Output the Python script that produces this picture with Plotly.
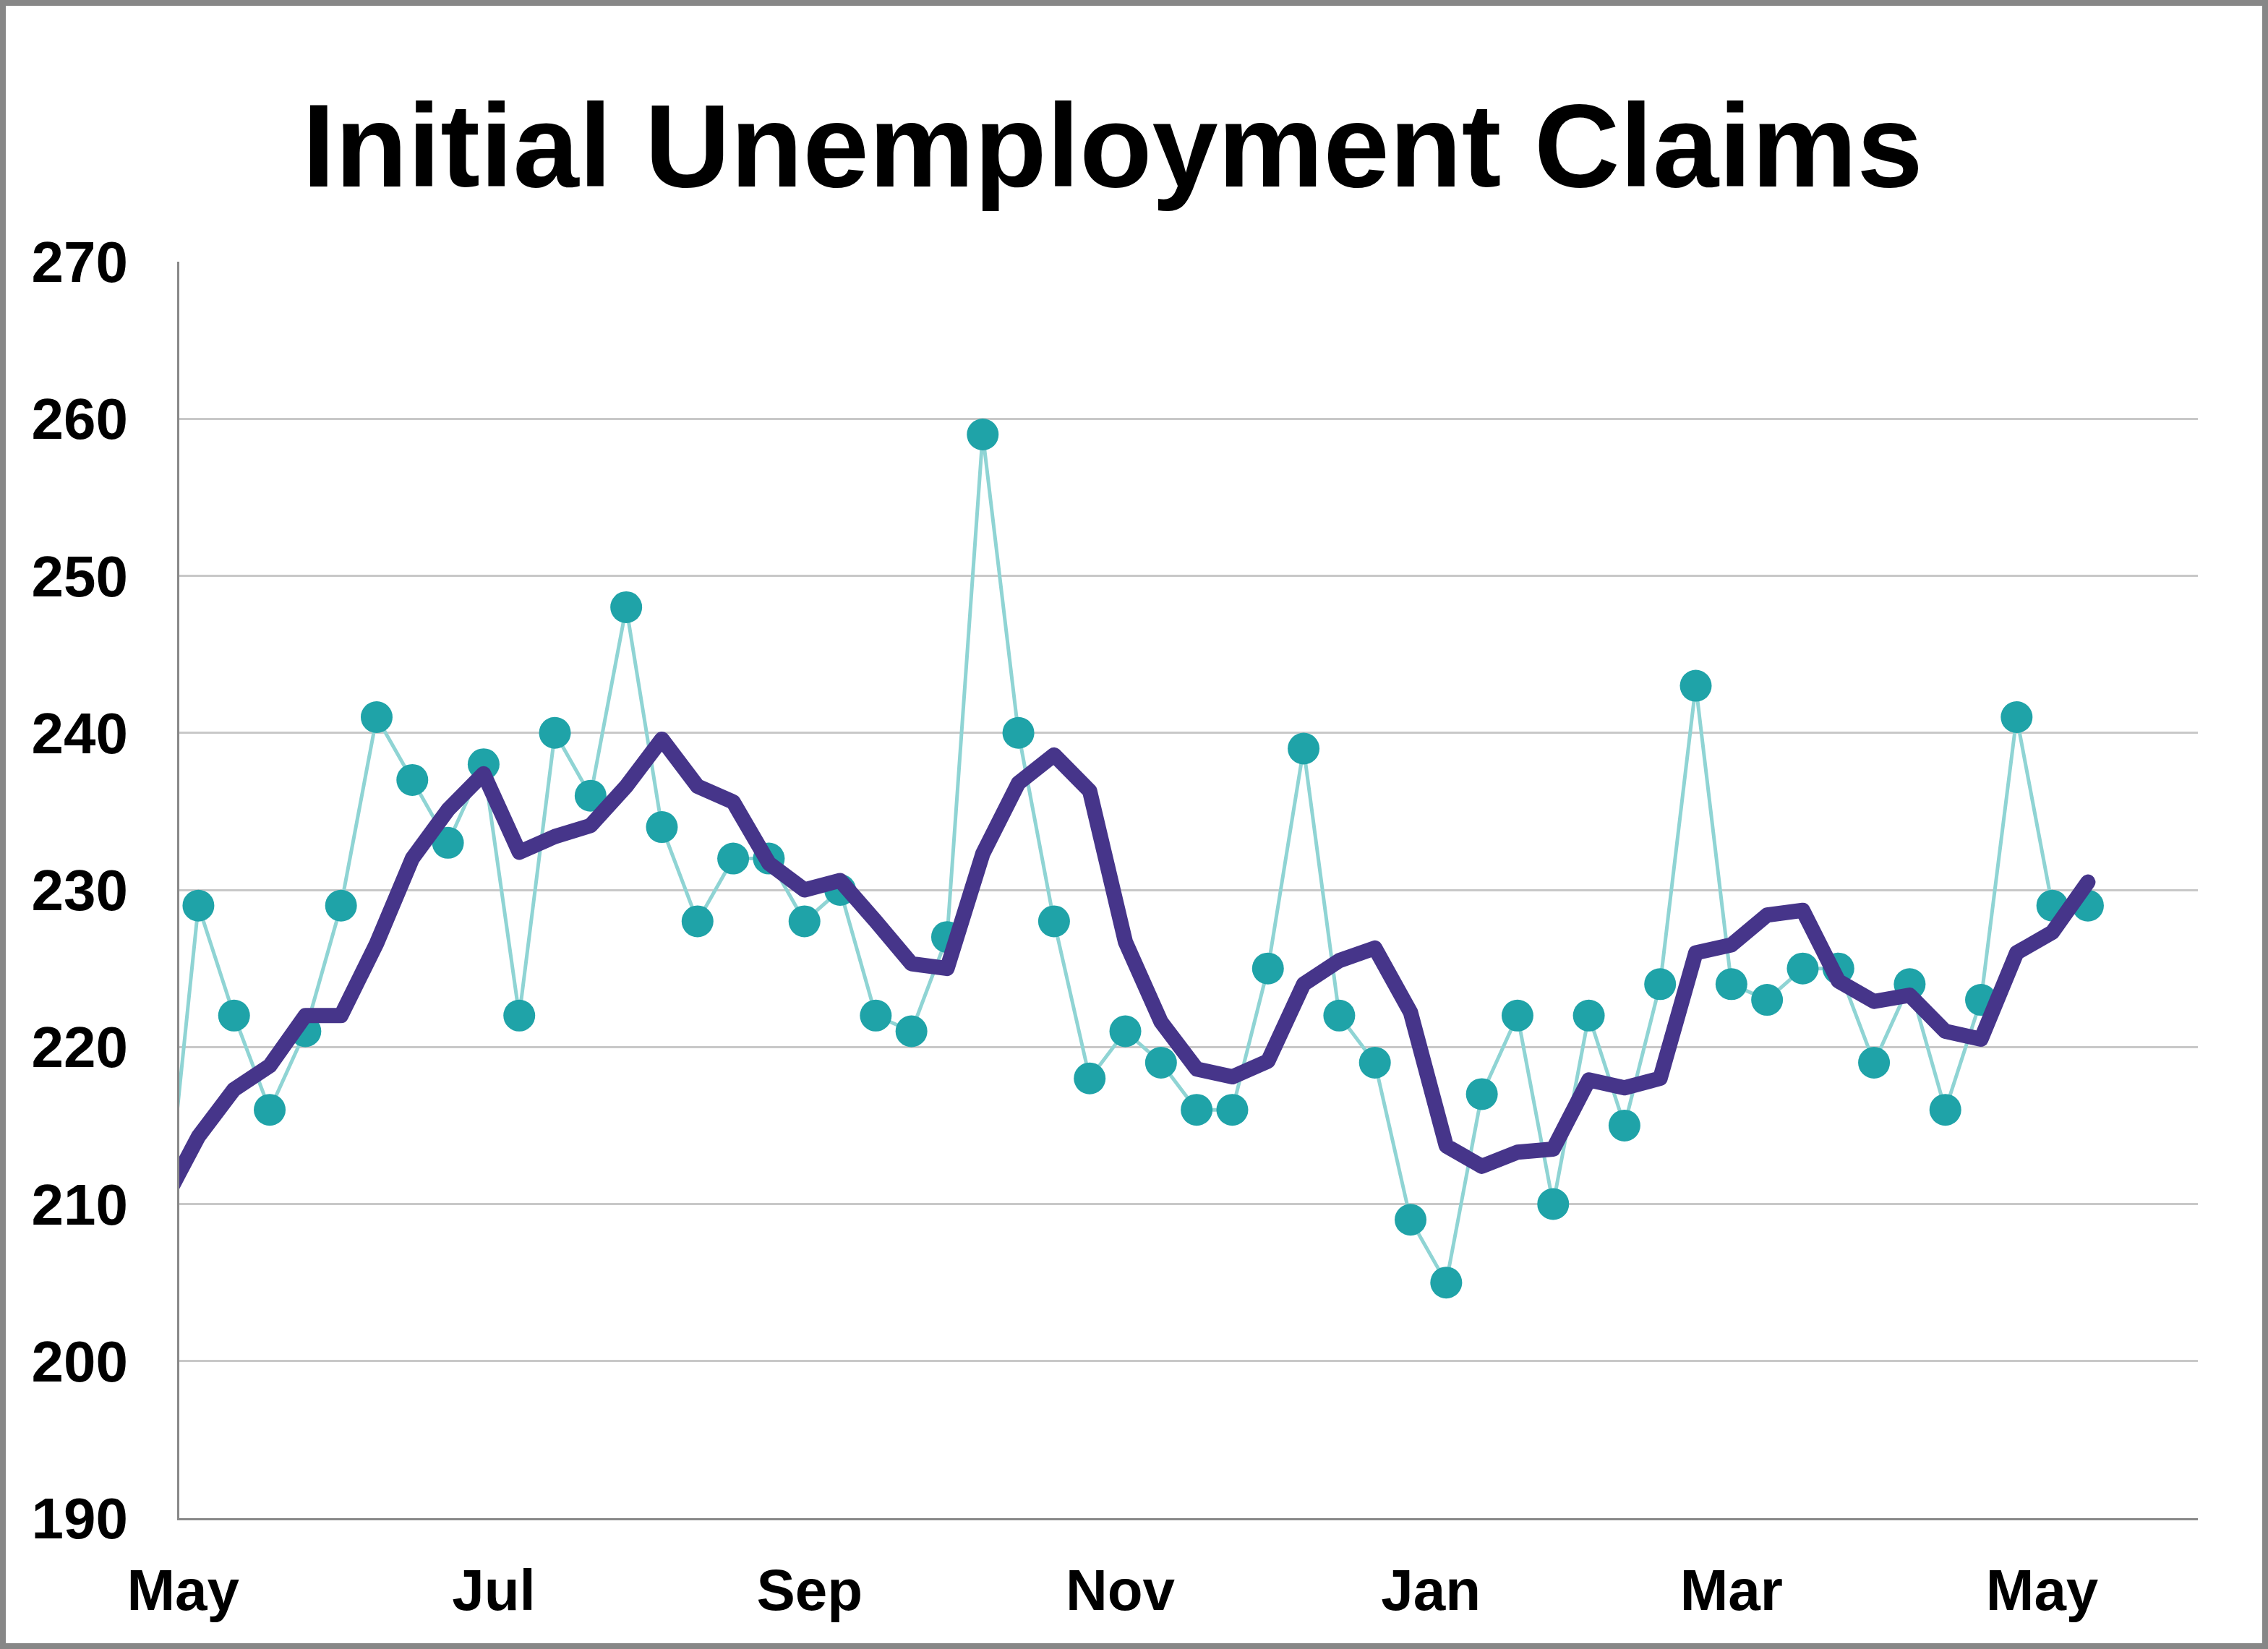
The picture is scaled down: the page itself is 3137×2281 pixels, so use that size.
import pandas as pd
import plotly.graph_objects as go

# Weekly initial claims (thousands), week ending Saturdays, starting 2024-04-27
claims = [207, 229, 222, 216, 221, 229, 241, 237, 233, 238, 222, 240, 236, 248,
          234, 228, 232, 232, 228, 230, 222, 221, 227, 259, 240, 228, 218, 221,
          219, 216, 216, 225, 239, 222, 219, 209, 205, 217, 222, 210, 222, 215,
          224, 243, 224, 223, 225, 225, 219, 224, 216, 223, 241, 229, 229]

# 4-week moving average (thousands)
moving_avg = [210.0, 214.3, 217.3, 218.8, 222.0, 222.0, 226.6, 232.0, 235.1, 237.4,
              232.4, 233.4, 234.1, 236.6, 239.6, 236.6, 235.6, 231.7, 230.0, 230.6,
              228.0, 225.3, 225.0, 232.3, 236.8, 238.6, 236.3, 226.7, 221.6, 218.6,
              218.1, 219.1, 224.0, 225.5, 226.3, 222.2, 213.7, 212.4, 213.3, 213.5,
              217.9, 217.4, 218.0, 226.0, 226.5, 228.4, 228.7, 224.2, 222.9, 223.3,
              221.0, 220.5, 226.0, 227.3, 230.5]

week_dates = pd.date_range("2024-04-27", periods=len(claims), freq="7D")

tick_dates = ["2024-05-01", "2024-07-01", "2024-09-01", "2024-11-01",
              "2025-01-01", "2025-03-01", "2025-05-01"]
tick_labels = ["May", "Jul", "Sep", "Nov", "Jan", "Mar", "May"]
y_ticks = [190, 200, 210, 220, 230, 240, 250, 260, 270]

W, H = 3137, 2281
L, R, T, B = 248, 97, 362, 181
PW, PH = W - L - R, H - T - B

FONT = "Liberation Sans, Arial, Helvetica, sans-serif"

fig = go.Figure()
fig.add_trace(go.Scatter(
    x=week_dates, y=claims, mode="lines+markers",
    line=dict(color="#8fd4d4", width=5),
    marker=dict(color="#1fa3a8", size=44, line=dict(width=0)),
    hoverinfo="skip",
))
fig.add_trace(go.Scatter(
    x=week_dates, y=moving_avg, mode="lines",
    line=dict(color="#46358a", width=21),
    hoverinfo="skip",
))

fig.update_layout(
    width=W, height=H,
    margin=dict(l=L, r=R, t=T, b=B, pad=0),
    paper_bgcolor="white", plot_bgcolor="white",
    showlegend=False,
    xaxis=dict(
        type="date",
        range=["2024-04-30 06:00", "2025-05-31 14:00"],
        tickvals=tick_dates, ticktext=tick_labels,
        showgrid=False, zeroline=False,
        showline=True, linecolor="#898989", linewidth=3,
        ticks="", ticklabelstandoff=28,
        tickfont=dict(family=FONT, size=80, color="black", weight="bold"),
    ),
    yaxis=dict(
        range=[190, 270], tickvals=y_ticks,
        showgrid=True, gridcolor="#c8c8c8", gridwidth=3,
        zeroline=False,
        showline=True, linecolor="#898989", linewidth=3,
        ticks="", ticklabelstandoff=52,
        tickfont=dict(family=FONT, size=80, color="black", weight="bold"),
    ),
    annotations=[dict(
        text="Initial Unemployment Claims",
        xref="paper", yref="paper",
        x=(1539 - L) / PW, y=1 + (T - 202) / PH,
        xanchor="center", yanchor="middle",
        showarrow=False,
        font=dict(family=FONT, size=164, color="black", weight="bold"),
    )],
    shapes=[dict(
        type="rect", xref="paper", yref="paper",
        x0=(4 - L) / PW, x1=(W - 4 - L) / PW,
        y0=-(B - 4) / PH, y1=1 + (T - 4) / PH,
        line=dict(color="#878787", width=8),
        fillcolor="rgba(0,0,0,0)", layer="above",
    )],
)

post = (
    "document.body.style.margin='0';"
    "document.body.style.overflow='hidden';"
    "document.querySelectorAll('.scatterlayer path.js-line').forEach(function(p){"
    "p.style.strokeLinejoin='round';p.style.strokeLinecap='round';});"
)
fig.write_html("out.html", config={"displayModeBar": False}, post_script=post)
